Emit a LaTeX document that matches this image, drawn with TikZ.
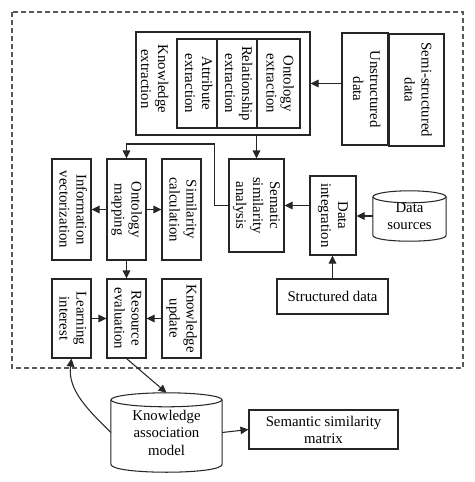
\documentclass[tikz,border=0pt]{standalone}
\usepackage{fontspec}
\setmainfont{Liberation Serif}
\usetikzlibrary{arrows.meta,calc}
\newcommand\vt[1]{\rotatebox{-90}{\begin{tabular}{@{}c@{}}#1\end{tabular}}}
\begin{document}
\begin{tikzpicture}[x=1pt,y=-1pt,
  every node/.style={font=\fontsize{14.8}{17}\selectfont, text=black},
  box/.style={draw=black!85, line width=1.05pt, inner sep=0pt},
  plain/.style={inner sep=0pt, align=center},
  cyl/.style={draw=black!85, line width=1.05pt},
  arr/.style={draw=black!85, line width=1.05pt, -{Triangle[length=8pt,width=7.5pt]}},
  frame/.style={draw=black!65, line width=1.1pt, dash pattern=on 5pt off 3pt}]
\useasboundingbox (0,0) rectangle (474,482);
\draw[frame] (12,12) rectangle (463,368);
% knowledge extraction
\node[box, minimum width=174pt, minimum height=103pt] (ke) at (223,83.5) {};
\node (kelab) at (153,79) {\vt{Knowledge\\extraction}};
\node[box, minimum width=40pt, minimum height=89pt] (attr) at (197,83.5) {\vt{Attribute\\extraction}};
\node[box, minimum width=40pt, minimum height=89pt] (rel) at (237,83.5) {\vt{Relationship\\extraction}};
\node[box, minimum width=43pt, minimum height=89pt] (ont) at (278.5,83.5) {\vt{Ontology\\extraction}};
\node[box, minimum width=46pt, minimum height=112pt] (uns) at (365,89) {\vt{Unstructured\\data}};
\node[box, minimum width=55pt, minimum height=112pt] (semi) at (416.5,90) {\vt{Semi-structured\\data}};
% middle
\node[box, minimum width=55pt, minimum height=93pt] (ssa) at (256.5,205.5) {\vt{Sematic\\similarity\\analysis}};
\node[box, minimum width=46pt, minimum height=79pt] (di) at (333,215.5) {\vt{Data\\integration}};
\node[plain, minimum width=73pt, minimum height=50pt] (ds) at (409.5,216) {Data\\sources};
\node[box, minimum width=111pt, minimum height=35pt] (sd) at (332.5,296.5) {Structured data};
\node[box, minimum width=39pt, minimum height=101pt] (iv) at (71.5,209.5) {\vt{Information\\vectorization}};
\node[box, minimum width=39pt, minimum height=101pt] (om) at (126.5,209.5) {\vt{Ontology\\mapping}};
\node[box, minimum width=39pt, minimum height=101pt] (sc) at (181.5,209.5) {\vt{Similarity\\calculation}};
\node[box, minimum width=39pt, minimum height=79pt] (li) at (71.5,318.5) {\vt{Learning\\interest}};
\node[box, minimum width=39pt, minimum height=79pt] (re) at (126.5,318.5) {\vt{Resource\\evaluation}};
\node[box, minimum width=39pt, minimum height=79pt] (ku) at (181.5,318.5) {\vt{Knowledge\\update}};
% bottom
\node[plain, minimum width=111pt, minimum height=79pt, font=\fontsize{14.8}{17.5}\selectfont] (kam) at (166.5,432.5) {Knowledge\\association\\model};
\node[box, align=center, minimum width=149pt, minimum height=39pt] (ssm) at (323.5,429.5) {Semantic similarity\\matrix};
% cylinders
\draw[cyl] ($(kam.north)+(0,7)$) ellipse [x radius=55.5pt, y radius=7pt];
\draw[cyl] ($(kam.north west)+(0,7)$) -- ($(kam.south west)+(0,-8)$) .. controls +(0,10.7) and +(0,10.7) .. ($(kam.south east)+(0,-8)$) -- ($(kam.north east)+(0,7)$);
\draw[cyl] ($(ds.north)+(0,6)$) ellipse [x radius=36.5pt, y radius=6pt];
\draw[cyl] ($(ds.north west)+(0,6)$) -- ($(ds.south west)+(0,-6)$) .. controls +(0,8) and +(0,8) .. ($(ds.south east)+(0,-6)$) -- ($(ds.north east)+(0,6)$);
% connectors
\draw[arr] (uns.west |- ke.east) -- (ke.east);
\draw[arr] (ke.south -| ssa.north) -- (ssa.north);
\draw[arr] (ssa.west) -- ++(-14,0) -- ++(0,-61.5) -| (om.north);
\draw[arr] (di.west |- ssa.east) -- (ssa.east);
\draw[arr] (ds.west) -- (ds.west -| di.east);
\draw[arr] (sd.north) -- (sd.north |- di.south);
\draw[arr] (om.west) -- (iv.east);
\draw[arr] (om.east) -- (sc.west);
\draw[arr] (om.south) -- (re.north);
\draw[arr] (li.east) -- (re.west);
\draw[arr] (ku.west) -- (re.east);
\draw[arr] (re.south) -- (kam.north);
\draw[arr] (kam.west) .. controls +(-22,-22) and +(-4,32) .. (li.south);
\draw[arr] (kam.east) -- (ssm.west);
\end{tikzpicture}
\end{document}
